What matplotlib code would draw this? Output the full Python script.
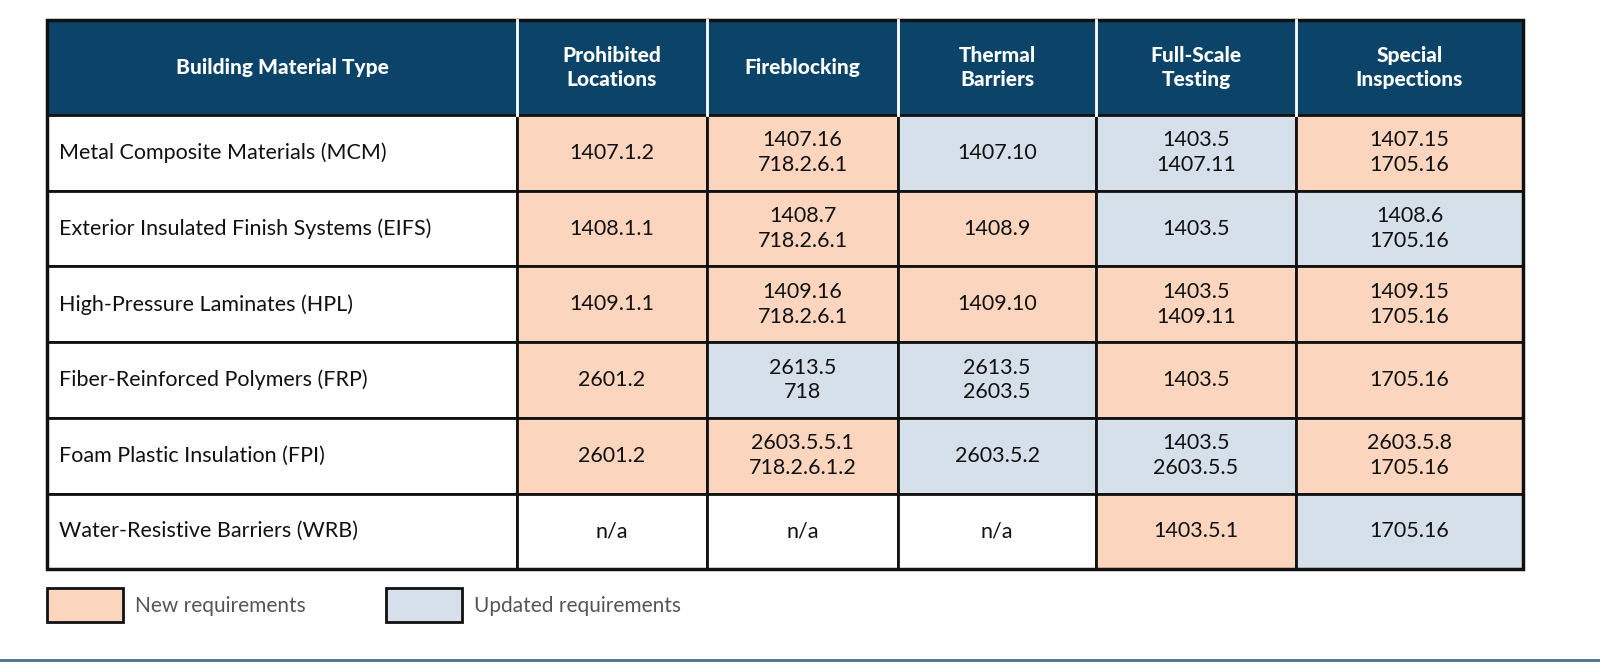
import matplotlib.pyplot as plt
from matplotlib.patches import Rectangle

headers = ['Building Material Type', 'Prohibited\nLocations', 'Fireblocking',
           'Thermal\nBarriers', 'Full-Scale\nTesting', 'Special\nInspections']
materials = ['Metal Composite Materials (MCM)',
             'Exterior Insulated Finish Systems (EIFS)',
             'High-Pressure Laminates (HPL)',
             'Fiber-Reinforced Polymers (FRP)',
             'Foam Plastic Insulation (FPI)',
             'Water-Resistive Barriers (WRB)']
sections = [
    ['1407.1.2', '1407.16\n718.2.6.1', '1407.10', '1403.5\n1407.11', '1407.15\n1705.16'],
    ['1408.1.1', '1408.7\n718.2.6.1', '1408.9', '1403.5', '1408.6\n1705.16'],
    ['1409.1.1', '1409.16\n718.2.6.1', '1409.10', '1403.5\n1409.11', '1409.15\n1705.16'],
    ['2601.2', '2613.5\n718', '2613.5\n2603.5', '1403.5', '1705.16'],
    ['2601.2', '2603.5.5.1\n718.2.6.1.2', '2603.5.2', '1403.5\n2603.5.5', '2603.5.8\n1705.16'],
    ['n/a', 'n/a', 'n/a', '1403.5.1', '1705.16'],
]
# N = new, U = updated, '' = none
status = [
    ['N', 'N', 'U', 'U', 'N'],
    ['N', 'N', 'N', 'U', 'U'],
    ['N', 'N', 'N', 'N', 'N'],
    ['N', 'U', 'U', 'N', 'N'],
    ['N', 'N', 'U', 'U', 'N'],
    ['', '', '', 'N', 'U'],
]
legend_labels = ['New requirements', 'Updated requirements']

NAVY = '#0b4468'
PEACH = '#fcd5bf'
BLUE = '#d5e0eb'
fills = {'N': PEACH, 'U': BLUE, '': 'white'}
font = 'Lato'

col_x = [47, 517, 707, 898, 1096, 1296, 1523]
top, head_h, row_h = 20, 95, 75.7

fig = plt.figure(figsize=(16, 6.63), dpi=100)
ax = fig.add_axes([0, 0, 1, 1])
ax.set_xlim(0, 1600)
ax.set_ylim(663, 0)
ax.axis('off')

# header
for j, h in enumerate(headers):
    x0, x1 = col_x[j], col_x[j + 1]
    ax.add_patch(Rectangle((x0, top), x1 - x0, head_h, facecolor=NAVY, edgecolor='none'))
    ax.text((x0 + x1) / 2, top + head_h / 2, h, color='white', fontsize=15,
            fontweight='black', ha='center', va='center', family=font, linespacing=1.35)
    if j > 0:
        ax.plot([x0, x0], [top, top + head_h], color='white', lw=2)

# body
for i, name in enumerate(materials):
    y0 = top + head_h + i * row_h
    cy = y0 + row_h / 2
    ax.add_patch(Rectangle((col_x[0], y0), col_x[1] - col_x[0], row_h,
                           facecolor='white', edgecolor='#111111', lw=2))
    ax.text(col_x[0] + 12, cy, name, fontsize=15.5, ha='left', va='center',
            family=font, color='#111111')
    for j, val in enumerate(sections[i]):
        x0, x1 = col_x[j + 1], col_x[j + 2]
        ax.add_patch(Rectangle((x0, y0), x1 - x0, row_h, facecolor=fills[status[i][j]],
                               edgecolor='#111111', lw=2))
        ax.text((x0 + x1) / 2, cy, val, fontsize=15.5, ha='center', va='center',
                family=font, color='#111111', linespacing=1.3)

# outer frame
bottom = top + head_h + len(materials) * row_h
ax.add_patch(Rectangle((col_x[0], top), col_x[-1] - col_x[0], bottom - top,
                       facecolor='none', edgecolor='#111111', lw=2.5))

# legend
for k, (lbl, c) in enumerate(zip(legend_labels, [PEACH, BLUE])):
    lx = [47, 386][k]
    ax.add_patch(Rectangle((lx, 588), 76, 34, facecolor=c, edgecolor='#111111', lw=2))
    ax.text(lx + 88, 606, lbl, fontsize=15, ha='left', va='center', family=font,
            color='#555555')

ax.plot([0, 1600], [660, 660], color='#4a7090', lw=2)

fig.savefig('out.png', dpi=100)
